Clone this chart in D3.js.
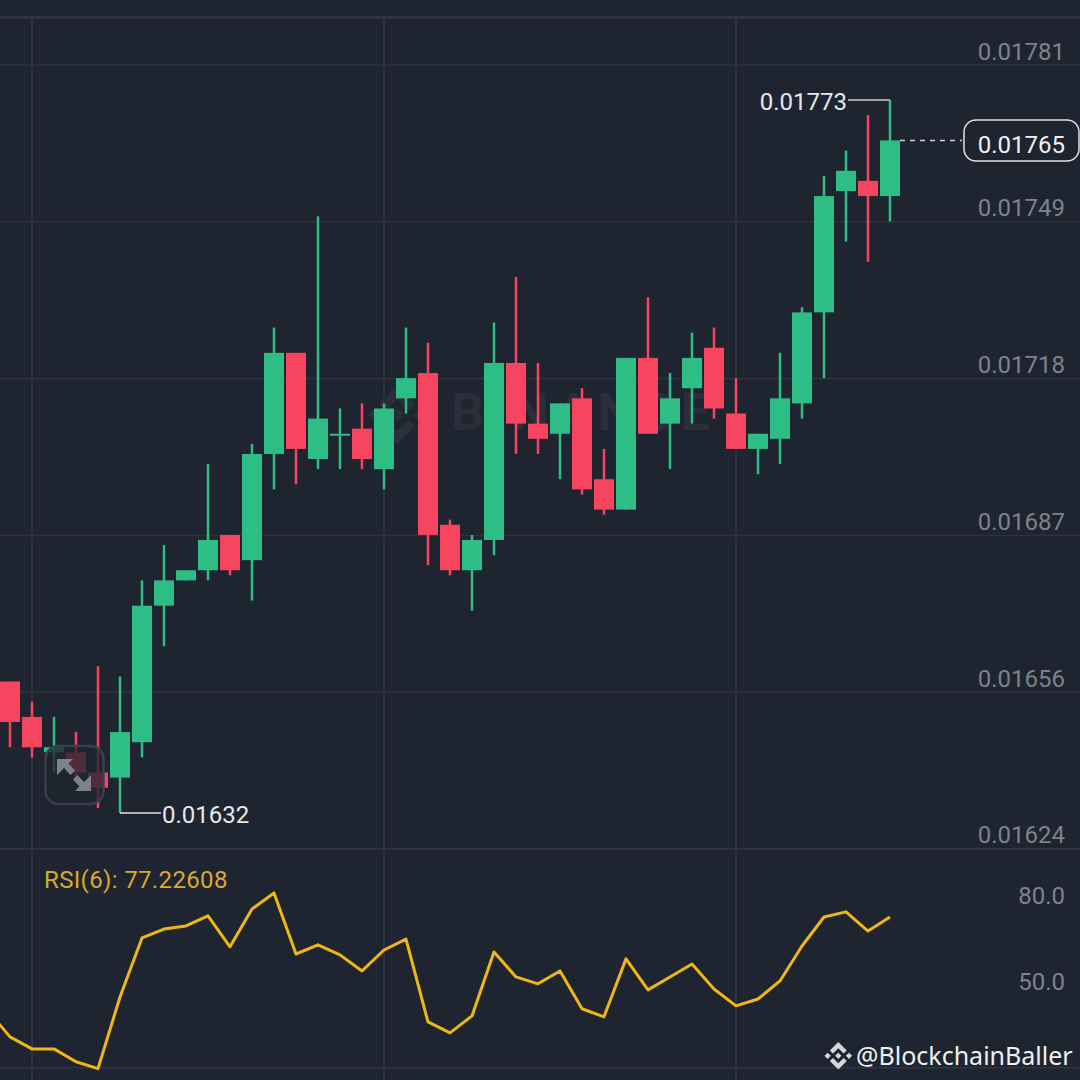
<!DOCTYPE html>
<html>
<head>
<meta charset="utf-8">
<script src="https://cdn.jsdelivr.net/npm/d3@7"></script>
<style>
  html, body { margin: 0; padding: 0; background: #1f2530; }
  svg { display: block; font-family: Roboto, sans-serif; }
</style>
</head>
<body>
<div id="chart"></div>
<script>
// candles, oldest first
const opens = [0.01658,0.01651,0.01644,0.01644,0.0164,0.01639,0.01646,0.01673,0.01678,0.0168,0.01687,0.01682,0.01703,0.01723,0.01702,0.01707,0.01708,0.017,0.01714,0.01719,0.01689,0.0168,0.01686,0.01721,0.01709,0.01707,0.01714,0.01698,0.01692,0.01722,0.01709,0.01716,0.01724,0.01711,0.01704,0.01706,0.01713,0.01731,0.01755,0.01757,0.01754];
const highs = [0.01658,0.01654,0.01651,0.01648,0.01661,0.01659,0.01678,0.01685,0.0168,0.01701,0.01687,0.01705,0.01728,0.01723,0.0175,0.01712,0.01713,0.01713,0.01728,0.01725,0.0169,0.01687,0.01729,0.01738,0.01721,0.01713,0.01716,0.01704,0.01722,0.01734,0.01719,0.01727,0.01728,0.01718,0.01707,0.01723,0.01732,0.01758,0.01763,0.0177,0.01773];
const lows = [0.01645,0.01643,0.0164,0.01638,0.01633,0.01632,0.01643,0.01665,0.01678,0.01678,0.01679,0.01674,0.01696,0.01697,0.017,0.017,0.017,0.01696,0.01711,0.01681,0.01679,0.01672,0.01683,0.01703,0.01703,0.01698,0.01695,0.01691,0.01692,0.01707,0.017,0.01709,0.0171,0.01704,0.01699,0.01701,0.0171,0.01718,0.01745,0.01741,0.01749];
const closes = [0.0165,0.01645,0.01645,0.0164,0.01637,0.01648,0.01673,0.01678,0.0168,0.01686,0.0168,0.01703,0.01723,0.01704,0.0171,0.01707,0.01702,0.01712,0.01718,0.01687,0.0168,0.01686,0.01721,0.01709,0.01706,0.01713,0.01696,0.01692,0.01722,0.01707,0.01714,0.01722,0.01712,0.01704,0.01707,0.01714,0.01731,0.01754,0.01759,0.01754,0.01765];

// rsi starts one candle before the first visible one
const rsiValues = [44.5,35.4,31.2,31.2,26.7,24.3,49.3,69.9,73.0,74.1,77.6,66.8,80.0,85.6,64.3,67.5,64.0,58.4,65.7,69.5,40.6,36.8,42.7,65.0,56.3,53.9,58.4,45.2,42.4,62.6,51.8,56.3,60.8,52.1,46.2,48.6,54.9,67.1,77.2,79.0,72.3,77.2];

const gridPrices = [0.017894,0.0178,0.01749,0.01718,0.01687,0.01656,0.01625];
const priceLabels = ["","0.01781","0.01749","0.01718","0.01687","0.01656","0.01624"];
const gridRsi = [24.6];
const rsiTicks = [80,50];
const timeTicks = [1,17,33];

const highLabel = 0.01773, lowLabel = 0.01632, lastPrice = 0.01765;

const BG = "#1f2530", GRID = "#2e333e", UP = "#2ebd85", DOWN = "#f8455f", TICK = "#7d828d", LABEL = "#e6e8ea";
const LOGO = "M38.73 53.2l24.59-24.58 24.6 24.6 14.3-14.31L63.32 0 24.43 38.9z M0 63.31l14.3-14.31 14.31 14.31-14.31 14.3z M38.73 73.41L63.32 97.99l24.6-24.6 14.31 14.29-38.91 38.91-38.9-38.88z M97.99 63.31l14.3-14.31 14.31 14.3-14.31 14.31z M77.83 63.3L63.32 48.78 52.59 59.51l-1.24 1.23-2.54 2.54 14.51 14.53 14.51-14.51z";

const width = 1080, height = 1080;
const x = d3.scaleLinear().domain([0, 40]).range([10, 890]);
const y = d3.scaleLinear().domain([0.01773, 0.01632]).range([100, 813]);
const rsiY = d3.scaleLinear().domain([80, 50]).range([909, 995]);

const svg = d3.select("#chart").append("svg").attr("width", width).attr("height", height);
svg.append("rect").attr("width", width).attr("height", height).attr("fill", BG);

// vertical time grid
svg.append("g").selectAll("line").data(timeTicks).enter().append("line")
  .attr("x1", d => x(d)).attr("x2", d => x(d))
  .attr("y1", y(gridPrices[0])).attr("y2", height)
  .attr("stroke", GRID).attr("stroke-width", 2);

// price axis, ticks stretched across as grid lines
const priceAxis = d3.axisLeft(y).tickValues(gridPrices).tickSize(width)
  .tickFormat((d, i) => priceLabels[i]);
const axisG = svg.append("g").attr("transform", "translate(" + width + ",0)").call(priceAxis);
axisG.select(".domain").remove();
axisG.selectAll("line").attr("stroke", GRID)
  .attr("stroke-width", (d, i) => i == 0 ? 3 : (i == 6 ? 2 : 1.5));
axisG.selectAll("text").attr("x", -15).attr("dy", -5.5).attr("text-anchor", "end")
  .attr("fill", TICK).attr("font-size", 24).attr("font-family", "Roboto");

// rsi pane bottom line
svg.append("g").selectAll("line").data(gridRsi).enter().append("line")
  .attr("x1", 0).attr("x2", width)
  .attr("y1", d => rsiY(d)).attr("y2", d => rsiY(d))
  .attr("stroke", GRID).attr("stroke-width", 2);

// watermark
svg.append("path").attr("d", LOGO).attr("fill", "#2a2f3a")
  .attr("transform", "translate(368,386) scale(0.46)");
svg.append("text").attr("x", 451).attr("y", 430).text("BINANCE")
  .attr("font-size", 52).attr("font-weight", 700).attr("fill", "#2a2f3a")
  .attr("textLength", 259).attr("lengthAdjust", "spacing");

// candles
const candles = opens.map((o, i) => ({ i: i, o: o, h: highs[i], l: lows[i], c: closes[i] }));
const color = d => d.c >= d.o ? UP : DOWN;
const candle = svg.append("g").selectAll("g").data(candles).enter().append("g");
candle.append("line")
  .attr("x1", d => x(d.i)).attr("x2", d => x(d.i))
  .attr("y1", d => y(d.h)).attr("y2", d => y(d.l))
  .attr("stroke", color).attr("stroke-width", 2.5);
candle.append("rect")
  .attr("x", d => x(d.i) - 10).attr("width", 20)
  .attr("y", d => y(Math.max(d.o, d.c)))
  .attr("height", d => Math.max(2, Math.abs(y(d.o) - y(d.c))))
  .attr("fill", color);

// rsi line
const line = d3.line().x((d, i) => x(i - 1)).y(d => rsiY(d));
svg.append("path").attr("d", line(rsiValues)).attr("fill", "none")
  .attr("stroke", "#eeb715").attr("stroke-width", 3).attr("stroke-linejoin", "round");
svg.append("text").attr("x", 44).attr("y", 888).text("RSI(6): 77.22608")
  .attr("font-size", 24).attr("letter-spacing", 0.35).attr("fill", "#d9a92c");

svg.append("g").selectAll("text").data(rsiTicks).enter().append("text")
  .attr("x", 1065).attr("y", d => rsiY(d) - 5.5).attr("text-anchor", "end")
  .attr("font-size", 24).attr("fill", TICK).text(d => d.toFixed(1));

// high / low markers
svg.append("line").attr("x1", x(40)).attr("x2", 848).attr("y1", y(highLabel)).attr("y2", y(highLabel))
  .attr("stroke", "#c8cacd").attr("stroke-width", 1.5);
svg.append("text").attr("x", 847).attr("y", y(highLabel) + 10).attr("text-anchor", "end")
  .attr("font-size", 24).attr("fill", LABEL).text(highLabel.toFixed(5));
svg.append("line").attr("x1", x(5)).attr("x2", 161).attr("y1", y(lowLabel)).attr("y2", y(lowLabel))
  .attr("stroke", "#e0e2e4").attr("stroke-width", 1.5);
svg.append("text").attr("x", 162).attr("y", y(lowLabel) + 10)
  .attr("font-size", 24).attr("fill", LABEL).text(lowLabel.toFixed(5));

// last price
svg.append("line").attr("x1", 900).attr("x2", 962).attr("y1", y(lastPrice)).attr("y2", y(lastPrice))
  .attr("stroke", "#d0d2d5").attr("stroke-width", 1.5).attr("stroke-dasharray", "5 5");
svg.append("rect").attr("x", 964).attr("y", 120).attr("width", 115).attr("height", 41).attr("rx", 12)
  .attr("fill", BG).attr("stroke", "#dfe1e3").attr("stroke-width", 1.5);
svg.append("text").attr("x", 1065).attr("y", 153).attr("text-anchor", "end")
  .attr("font-size", 24).attr("fill", "#f0f1f2").text(lastPrice.toFixed(5));

// expand button over the candles
const btn = svg.append("g");
btn.append("rect").attr("x", 45.5).attr("y", 746).attr("width", 58).attr("height", 58).attr("rx", 13)
  .attr("fill", BG).attr("fill-opacity", 0.78).attr("stroke", "#3a3f4a").attr("stroke-width", 2.5);
btn.append("path").attr("d", "M57 759H73L68.5 763.5L75 770.5L70.5 775L64 768L57 775Z").attr("fill", "#7e828c");
btn.append("path").attr("d", "M91 791H75L79.5 786.5L73 779.5L77.5 775L84 782L91 775Z").attr("fill", "#7e828c");

// author tag
svg.append("path").attr("d", LOGO).attr("fill", "#d6d7d9")
  .attr("transform", "translate(824.5,1042) scale(0.218)");
svg.append("text").attr("x", 856).attr("y", 1065).text("@BlockchainBaller")
  .attr("font-family", "Noto Sans").attr("font-size", 25).attr("fill", "#eef0f1");
</script>
</body>
</html>
